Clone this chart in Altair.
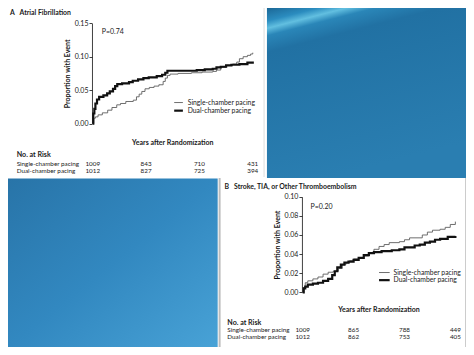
import altair as alt
import pandas as pd

# ---------------- data ----------------
groups = ["Single-chamber pacing", "Dual-chamber pacing"]
years = [0, 1, 2, 3]

# Panel A: Atrial Fibrillation (cumulative proportion with event)
A_single_t = [0, 0.02, 0.05, 0.10, 0.18, 0.28, 0.36, 0.45, 0.52, 0.62,
              0.76, 0.82, 0.87, 0.92, 0.98, 1.06, 1.15, 1.24, 1.32, 1.36,
              1.40, 1.45, 1.60, 1.85, 2.05, 2.25, 2.32, 2.40, 2.50, 2.62,
              2.70, 2.75, 2.82, 2.90, 2.96, 3.00]
A_single_v = [0, 0.008, 0.010, 0.013, 0.016, 0.020, 0.024, 0.028, 0.030, 0.033,
              0.035, 0.040, 0.044, 0.048, 0.052, 0.054, 0.056, 0.058, 0.063, 0.068,
              0.072, 0.074, 0.075, 0.076, 0.077, 0.078, 0.080, 0.084, 0.087, 0.089,
              0.092, 0.097, 0.100, 0.102, 0.104, 0.106]
A_dual_t = [0, 0.01, 0.03, 0.05, 0.08, 0.12, 0.20, 0.27, 0.32, 0.38,
            0.42, 0.46, 0.55, 0.68, 0.75, 0.85, 0.95, 1.05, 1.20, 1.30,
            1.36, 1.40, 1.60, 1.95, 2.10, 2.25, 2.32, 2.40, 2.50, 2.60,
            2.75, 2.90, 3.00]
A_dual_v = [0, 0.015, 0.022, 0.030, 0.036, 0.040, 0.042, 0.045, 0.048, 0.052,
            0.056, 0.059, 0.060, 0.062, 0.064, 0.066, 0.068, 0.069, 0.071, 0.073,
            0.076, 0.079, 0.079, 0.080, 0.081, 0.082, 0.084, 0.085, 0.087, 0.088,
            0.089, 0.091, 0.093]

# Panel B: Stroke, TIA, or Other Thromboembolism
B_single_t = [0, 0.02, 0.05, 0.10, 0.20, 0.30, 0.40, 0.50, 0.60, 0.70,
              0.78, 0.85, 0.92, 1.00, 1.10, 1.20, 1.30, 1.40, 1.50, 1.60,
              1.70, 1.90, 2.00, 2.10, 2.35, 2.45, 2.55, 2.70, 2.80, 2.90, 3.00]
B_single_v = [0, 0.005, 0.010, 0.012, 0.014, 0.016, 0.019, 0.021, 0.022, 0.025,
              0.029, 0.031, 0.033, 0.035, 0.036, 0.038, 0.041, 0.045, 0.048, 0.050,
              0.052, 0.053, 0.055, 0.057, 0.060, 0.063, 0.065, 0.066, 0.068, 0.071, 0.074]
B_dual_t = [0, 0.02, 0.05, 0.10, 0.20, 0.30, 0.40, 0.50, 0.58, 0.63,
            0.68, 0.75, 0.82, 0.90, 1.00, 1.10, 1.20, 1.30, 1.40, 1.55,
            1.75, 1.90, 2.00, 2.20, 2.30, 2.40, 2.50, 2.60, 2.70, 2.85, 3.00]
B_dual_v = [0, 0.004, 0.006, 0.008, 0.009, 0.010, 0.012, 0.014, 0.018, 0.022,
            0.026, 0.029, 0.031, 0.032, 0.034, 0.036, 0.039, 0.041, 0.042, 0.043,
            0.044, 0.045, 0.047, 0.049, 0.050, 0.052, 0.053, 0.055, 0.056, 0.058, 0.059]

A_risk_single = [1009, 843, 710, 431]
A_risk_dual = [1012, 827, 725, 394]
B_risk_single = [1009, 865, 788, 449]
B_risk_dual = [1012, 862, 753, 405]

x_ticks = [0, 0.5, 1.0, 1.5, 2.0, 2.5, 3.0]
A_y_ticks = [0, 0.05, 0.10, 0.15]
B_y_ticks = [0, 0.02, 0.04, 0.06, 0.08, 0.10]

# ---------------- layout helpers ----------------
W, H = 458, 339
SX, SY = W / 474, H / 355
FONT = "Lato"
LINE_COLORS = ["#5f5f5f", "#111111"]
LINE_WIDTHS = [0.9, 2.2]


def px(v):
    return round(v * SX, 2)


def py(v):
    return round(v * SY, 2)


one = pd.DataFrame({"k": [0]})


def label(x, y, s, size=6.9, weight="normal", align="left", color="#1a1a1a", angle=0):
    return alt.Chart(one).mark_text(
        text=s, fontSize=size, fontWeight=weight, align=align, angle=angle,
        baseline="middle", color=color, font=FONT
    ).encode(x=alt.value(px(x)), y=alt.value(py(y)))


def box(x1, x2, y1, y2, fill):
    return alt.Chart(one).mark_rect(fill=fill, stroke=None).encode(
        x=alt.value(px(x1)), x2=alt.value(px(x2)),
        y=alt.value(py(y1)), y2=alt.value(py(y2)))


def vline(x, y1, y2, color, width):
    return alt.Chart(one).mark_rule(color=color, strokeWidth=width).encode(
        x=alt.value(px(x)), y=alt.value(py(y1)), y2=alt.value(py(y2)))


color_enc = alt.Color("group:N", scale=alt.Scale(domain=groups, range=LINE_COLORS), legend=None)
width_enc = alt.StrokeWidth("group:N", scale=alt.Scale(domain=groups, range=LINE_WIDTHS), legend=None)


def panel(st, sv, dt, dv, rs, rd, ymax, yticks, x0, x1, y0, y1, risk_y1, risk_y2):
    df = pd.concat([
        pd.DataFrame({"t": st, "v": sv, "group": groups[0]}),
        pd.DataFrame({"t": dt, "v": dv, "group": groups[1]}),
    ])
    xs = alt.Scale(domain=[0, 3], range=[px(x0), px(x1)])
    ys = alt.Scale(domain=[0, ymax], range=[py(y0), py(y1)])
    common = dict(labelFont=FONT, titleFont=FONT, labelFontSize=7.0, titleFontSize=7.0,
                  labelColor="#1a1a1a", titleColor="#111", titleFontWeight="bold",
                  domainColor="#111", tickColor="#111", domainWidth=0.8, tickWidth=0.8,
                  tickSize=3, grid=False)
    xaxis = alt.Axis(orient="bottom", offset=py(y0 + 0.8) - H, values=x_ticks, format=".1f",
                     title=None, labelPadding=1.5, **common)
    yaxis = alt.Axis(orient="left", offset=-px(x0 - 0.8), values=yticks, format=".2f",
                     title="Proportion with Event", labelPadding=1, titlePadding=4, **common)
    lines = alt.Chart(df).mark_line(interpolate="step-after").encode(
        x=alt.X("t:Q", scale=xs, axis=xaxis),
        y=alt.Y("v:Q", scale=ys, axis=yaxis),
        color=color_enc, strokeWidth=width_enc, order=alt.Order("group:N", sort="descending"))
    risk = pd.concat([
        pd.DataFrame({"t": years, "n": rs, "row": "s"}),
        pd.DataFrame({"t": years, "n": rd, "row": "d"}),
    ])
    r1 = alt.Chart(risk).transform_filter(alt.datum.row == "s").mark_text(
        fontSize=6.3, font=FONT, color="#1a1a1a", baseline="middle").encode(
        x=alt.X("t:Q", scale=xs, axis=None), y=alt.value(py(risk_y1)), text="n:N")
    r2 = alt.Chart(risk).transform_filter(alt.datum.row == "d").mark_text(
        fontSize=6.3, font=FONT, color="#1a1a1a", baseline="middle").encode(
        x=alt.X("t:Q", scale=xs, axis=None), y=alt.value(py(risk_y2)), text="n:N")
    return alt.layer(lines, r1, r2)


panelA = panel(A_single_t, A_single_v, A_dual_t, A_dual_v, A_risk_single, A_risk_dual,
               0.15, A_y_ticks, 87.7, 253.3, 121, 16, 163, 170.5)
panelB = panel(B_single_t, B_single_v, B_dual_t, B_dual_v, B_risk_single, B_risk_dual,
               0.10, B_y_ticks, 305, 463, 297.7, 197.7, 337.5, 345)

# ---------------- backgrounds ----------------
grad_tr = alt.LinearGradient(
    gradient="linear", x1=0, y1=0, x2=0.3, y2=1,
    stops=[alt.GradientStop(color="#1b6796", offset=0),
           alt.GradientStop(color="#2b8cbf", offset=0.07),
           alt.GradientStop(color="#62bfe0", offset=0.11),
           alt.GradientStop(color="#2a86b8", offset=0.15),
           alt.GradientStop(color="#2171a3", offset=0.24),
           alt.GradientStop(color="#2a7eb1", offset=1)])
grad_bl = alt.LinearGradient(
    gradient="linear", x1=0, y1=0, x2=1, y2=1,
    stops=[alt.GradientStop(color="#2874a8", offset=0),
           alt.GradientStop(color="#3288c0", offset=0.5),
           alt.GradientStop(color="#48a2d6", offset=1)])

bg = [
    box(268, 474, 0, 178, grad_tr),
    box(0, 217, 178.5, 355, grad_bl),
    vline(265, 0, 177, "#dddddd", 1),
    vline(219, 178, 355, "#bdbdbd", 2),
    vline(473.5, 178, 355, "#cccccc", 1),
]

# ---------------- annotations ----------------
texts = [
    label(2, 5, "A", weight="bold"),
    label(12, 5, "Atrial Fibrillation", weight="bold"),
    label(97, 25, "P=0.74", size=7),
    label(170.5, 141.5, "Years after Randomization", size=7, weight="bold", align="center"),
    label(9, 153.5, "No. at Risk", size=7.1, weight="bold"),
    label(9, 163, groups[0], size=6.3),
    label(9, 170.5, groups[1], size=6.3),
    label(224, 187.5, "B", weight="bold"),
    label(234, 187.5, "Stroke, TIA, or Other Thromboembolism", weight="bold"),
    label(313, 208, "P=0.20", size=7),
    label(384, 316, "Years after Randomization", size=7, weight="bold", align="center"),
    label(227, 329.5, "No. at Risk", size=7.1, weight="bold"),
    label(227, 337.5, groups[0], size=6.3),
    label(227, 345, groups[1], size=6.3),
]


# legends (drawn manually)
def legend(xl1, xl2, xt, ys):
    out = []
    for g, yv, c, w in zip(groups, ys, LINE_COLORS, LINE_WIDTHS):
        out.append(alt.Chart(one).mark_rule(color=c, strokeWidth=w).encode(
            x=alt.value(px(xl1)), x2=alt.value(px(xl2)), y=alt.value(py(yv))))
        out.append(label(xt, yv, g, size=6.8))
    return out


legends = legend(172, 181, 186, [99, 107.5]) + legend(384, 395, 399, [277, 285])

chart = alt.layer(*bg, panelA, panelB, *texts, *legends).resolve_scale(
    x="independent", y="independent"
).properties(
    width=W, height=H, padding=0, autosize="none", background="white"
).configure_view(stroke=None)

chart.save("out.html", embed_options={"renderer": "svg", "actions": False})
